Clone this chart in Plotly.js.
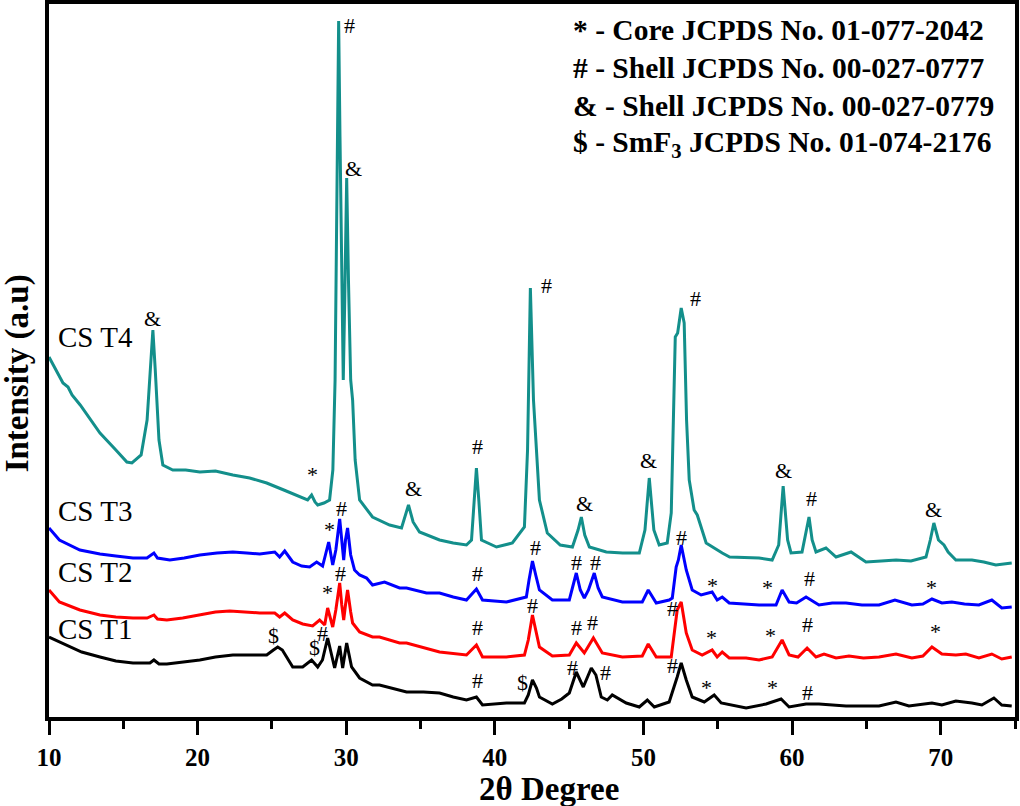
<!DOCTYPE html>
<html>
<head>
<meta charset="utf-8">
<script src="https://cdn.plot.ly/plotly-3.0.1.min.js"></script>
<style>html,body{margin:0;padding:0;background:#fff;}#chart{width:1020px;height:806px;}</style>
</head>
<body>
<div id="chart"></div>
<script>
// ---- data (2θ in degrees, intensity in arbitrary units, curves stacked as in the figure) ----
const t4Deg = [10.0,10.94,11.28,11.55,12.1,13.43,14.5,15.24,15.58,16.2,16.6,16.85,16.99,17.15,17.4,17.66,18.33,19.2,20.15,21.2,22.37,23.5,24.65,25.8,26.87,27.4,27.67,27.9,28.08,28.5,28.88,29.1,29.25,29.4,29.49,29.58,29.72,29.8,29.9,30.03,30.15,30.3,30.43,30.6,30.9,31.77,32.92,33.72,34.19,34.5,34.93,36.28,37.2,38.09,38.43,38.6,38.76,38.92,39.1,40.11,41.18,41.99,42.2,42.39,42.6,43.0,43.53,44.4,45.22,45.6,45.82,46.05,46.36,47.5,48.6,49.72,50.1,50.39,50.7,51.06,51.6,51.87,52.0,52.14,52.3,52.54,52.74,52.9,53.08,53.41,53.62,54.22,55.3,55.8,57.78,58.66,59.1,59.4,59.7,59.93,60.67,60.95,61.14,61.35,61.61,62.28,62.96,63.97,64.97,66.0,67.0,68.0,69.01,69.3,69.54,69.85,70.22,70.5,71.02,72.1,72.9,73.71,74.3,74.78];
const t4Int = [380,354,350,342,332,304,287,275,274,282,317,377,407,367,297,272,267,267,265,266,262,259,254,247,240,237,242,235,232,234,237,267,357,600,716,600,407,357,437,559,457,357,337,277,237,220,212,209,232,215,205,197,194,192,197,237,269,237,197,190,194,210,287,449,337,237,204,192,190,207,220,202,190,185,184,184,207,259,207,192,194,224,317,400,404,429,414,317,257,227,222,194,184,180,179,177,192,251,197,184,185,207,220,197,185,189,180,185,175,176,177,176,180,197,214,197,192,185,177,177,175,172,173,174];

const t3Deg = [10.0,10.7,12.08,13.43,14.5,15.65,16.59,17.06,17.3,18.13,19.1,20.15,21.3,22.37,23.3,24.18,25.19,25.52,25.86,26.4,27.0,27.54,28.01,28.41,28.6,28.82,29.09,29.3,29.56,29.7,29.83,29.95,30.09,30.3,30.56,30.9,31.37,31.77,32.58,33.59,34.06,35.4,36.28,37.2,38.09,38.76,39.17,40.78,42.12,42.3,42.53,42.75,43.0,43.87,45.01,45.48,45.75,46.02,46.3,46.69,46.95,47.23,48.58,49.92,50.32,50.86,51.73,51.94,52.2,52.35,52.54,52.88,53.28,53.88,54.62,54.96,55.3,55.77,56.91,57.78,58.92,59.33,59.8,60.3,60.94,61.81,62.7,63.63,64.7,65.85,66.92,68.06,68.8,69.41,70.08,70.75,71.6,72.57,73.44,74.11,74.78];
const t3Int = [209,197,187,183,181,179,179,184,179,177,179,182,184,185,184,183,185,180,186,175,171,170,175,171,182,195,172,187,218,192,177,197,209,182,167,162,159,152,155,149,149,144,144,140,137,148,137,135,140,157,176,162,147,137,137,164,147,139,147,164,149,140,135,135,147,134,137,139,170,177,192,167,147,142,145,137,140,134,133,132,132,147,135,134,140,132,134,134,132,132,137,132,133,138,134,135,133,132,137,129,130];

const t2Deg = [10.0,10.7,12.08,13.43,14.5,15.65,16.6,17.06,17.3,17.93,19.0,20.15,21.2,22.16,23.2,24.18,25.19,25.52,25.86,26.4,27.07,27.74,28.21,28.55,28.75,29.09,29.3,29.56,29.7,29.83,29.95,30.09,30.3,30.43,30.9,31.77,32.24,33.59,34.06,35.2,36.28,38.09,38.76,39.17,40.78,41.99,42.25,42.53,42.75,43.0,43.87,45.01,45.48,46.02,46.63,47.23,48.58,49.92,50.32,50.86,51.87,52.14,52.27,52.54,52.88,53.28,53.95,54.62,54.96,55.3,55.77,56.91,57.78,58.66,59.33,59.8,60.4,61.01,61.61,62.15,62.96,63.83,64.8,65.85,66.99,68.06,68.8,69.41,70.08,71.02,71.69,72.57,73.44,74.11,74.78];
const t2Int = [147,135,127,122,120,119,119,122,118,117,119,122,125,126,125,124,124,120,124,117,113,111,117,112,129,110,127,154,132,117,132,147,125,114,105,100,100,94,94,89,85,82,92,80,80,82,97,122,107,90,81,82,94,84,99,84,80,81,93,80,80,114,127,135,104,87,82,87,80,85,79,79,77,80,97,82,80,89,80,83,79,81,79,80,83,79,81,90,83,82,83,79,83,78,80];

const t1Deg = [10.0,11.21,12.2,13.43,14.5,15.65,16.79,17.06,17.4,17.93,19.0,20.15,21.2,22.37,23.5,24.65,25.1,25.39,25.7,25.99,26.4,27.07,27.67,28.08,28.4,28.75,29.0,29.22,29.56,29.76,30.03,30.36,30.9,31.77,32.24,33.59,34.06,35.2,36.28,37.2,38.09,38.76,39.17,40.78,41.99,42.25,42.53,42.8,43.0,43.87,44.5,45.01,45.48,45.95,46.49,46.8,47.16,47.57,47.9,48.84,49.72,50.26,50.73,51.73,51.94,52.27,52.54,52.88,53.28,54.09,54.76,55.23,56.91,58.25,59.26,59.8,60.94,61.81,63.63,65.85,66.99,67.86,69.41,70.08,71.02,72.1,72.77,73.58,74.11,74.78];
const t1Int = [100,92,85,80,76,74,74,77,73,73,75,77,80,82,82,82,87,90,87,80,70,70,77,70,77,99,82,69,91,69,94,70,59,52,52,47,45,45,44,40,37,40,32,34,34,42,57,49,40,33,38,44,65,50,69,62,40,37,42,34,30,37,30,35,44,60,74,57,40,35,42,34,29,33,38,30,33,33,31,31,35,31,34,32,36,34,32,39,32,31];

const seriesNames = ["CS T4","CS T3","CS T2","CS T1"];
const seriesLabelY = [400, 226, 165, 108];

// phase marks: position (2θ, intensity) and symbol
const t4MarkDeg = [16.99,27.74,30.23,30.5,34.53,38.83,43.47,46.02,50.32,53.48,59.4,61.28,69.54];
const t4MarkInt = [419,268,712,569,249,291,452,234,277,439,267,239,228];
const t4MarkSym = ["&","*","#","&","&","#","#","&","&","#","&","#","&"];

const t3MarkDeg = [28.88,29.69,38.83,42.73,45.48,46.76,52.54,54.62,58.32,61.14,69.41];
const t3MarkInt = [213,229,164,190,175,175,200,157,155,159,155];
const t3MarkSym = ["*","#","#","#","#","#","#","*","*","#","*"];

const t2MarkDeg = [28.75,29.62,38.83,42.53,45.48,46.56,51.94,54.56,58.52,61.01,69.68];
const t2MarkInt = [150,164,110,132,110,115,129,105,107,113,111];
const t2MarkSym = ["*","#","#","#","#","#","#","*","*","#","*"];

const t1MarkDeg = [25.12,27.88,28.41,38.83,41.85,45.22,47.43,51.94,54.22,58.66,61.01];
const t1MarkInt = [102,90,104,57,55,70,65,72,55,55,45];
const t1MarkSym = ["$","$","#","#","$","#","#","#","*","*","#"];

const legendLines = [
  "* - Core JCPDS No. 01-077-2042",
  "# - Shell JCPDS No. 00-027-0777",
  "&amp; - Shell JCPDS No. 00-027-0779",
  "$ - SmF<sub>3</sub> JCPDS No. 01-074-2176"
];

const xTitle = "2θ Degree";
const yTitle = "Intensity (a.u)";

// ---- styling ----
const SERIF = "Liberation Serif, Times New Roman, serif";
const colors = ["#138f8b", "#0000ff", "#ff0000", "#000000"];

const traces = [
  [t4Deg, t4Int], [t3Deg, t3Int], [t2Deg, t2Int], [t1Deg, t1Int]
].map((d, i) => ({
  x: d[0], y: d[1], type: "scatter", mode: "lines",
  name: seriesNames[i],
  line: {color: colors[i], width: 3},
  hoverinfo: "skip"
}));

const annotations = [];
[[t4MarkDeg,t4MarkInt,t4MarkSym],[t3MarkDeg,t3MarkInt,t3MarkSym],[t2MarkDeg,t2MarkInt,t2MarkSym],[t1MarkDeg,t1MarkInt,t1MarkSym]].forEach(m => {
  m[0].forEach((xv, k) => {
    const s = m[2][k];
    annotations.push({
      x: xv, y: m[1][k], xref: "x", yref: "y",
      text: s === "&" ? "&amp;" : s,
      showarrow: false, xanchor: "center", yanchor: "middle",
      yshift: s === "*" ? -5 : 0,
      font: {family: SERIF, size: 22, color: "#000"}
    });
  });
});

seriesNames.forEach((n, i) => {
  annotations.push({
    x: 10.5, y: seriesLabelY[i], xref: "x", yref: "y",
    text: n, showarrow: false, xanchor: "left", yanchor: "middle",
    font: {family: SERIF, size: 29, color: "#000"}
  });
});

legendLines.forEach((t, i) => {
  annotations.push({
    x: 0.5404, y: 0.964 - i * 0.0535, xref: "paper", yref: "paper",
    text: t, showarrow: false, xanchor: "left", yanchor: "middle", align: "left",
    font: {family: SERIF, size: 29.5, color: "#000", weight: "bold"}
  });
});

annotations.push({
  x: 0.5176, y: -0.101, xref: "paper", yref: "paper",
  text: "<b>" + xTitle + "</b>", showarrow: false, xanchor: "center", yanchor: "middle",
  font: {family: SERIF, size: 33, color: "#000"}
});
annotations.push({
  x: -0.0331, y: 0.482, xref: "paper", yref: "paper",
  text: "<b>" + yTitle + "</b>", showarrow: false, xanchor: "center", yanchor: "middle",
  textangle: -90,
  font: {family: SERIF, size: 33, color: "#000"}
});

const layout = {
  width: 1020, height: 806,
  margin: {l: 49, r: 5, t: 4, b: 89, pad: 0},
  paper_bgcolor: "#fff", plot_bgcolor: "#fff",
  showlegend: false,
  xaxis: {
    range: [10, 75], showgrid: false, zeroline: false,
    showline: true, linecolor: "#000", linewidth: 4, mirror: true,
    tick0: 10, dtick: 10, ticks: "outside", ticklen: 14, tickwidth: 3, tickcolor: "#000",
    minor: {dtick: 5, tick0: 5, ticks: "outside", ticklen: 8, tickwidth: 3, tickcolor: "#000", showgrid: false},
    tickfont: {family: SERIF, size: 25, color: "#000", weight: "bold"},
    ticklabelstandoff: 1
  },
  yaxis: {
    range: [20, 733], showgrid: false, zeroline: false,
    showline: true, linecolor: "#000", linewidth: 4, mirror: true,
    ticks: "", showticklabels: false
  },
  annotations: annotations
};

Plotly.newPlot("chart", traces, layout, {staticPlot: true, displayModeBar: false});
</script>
</body>
</html>
